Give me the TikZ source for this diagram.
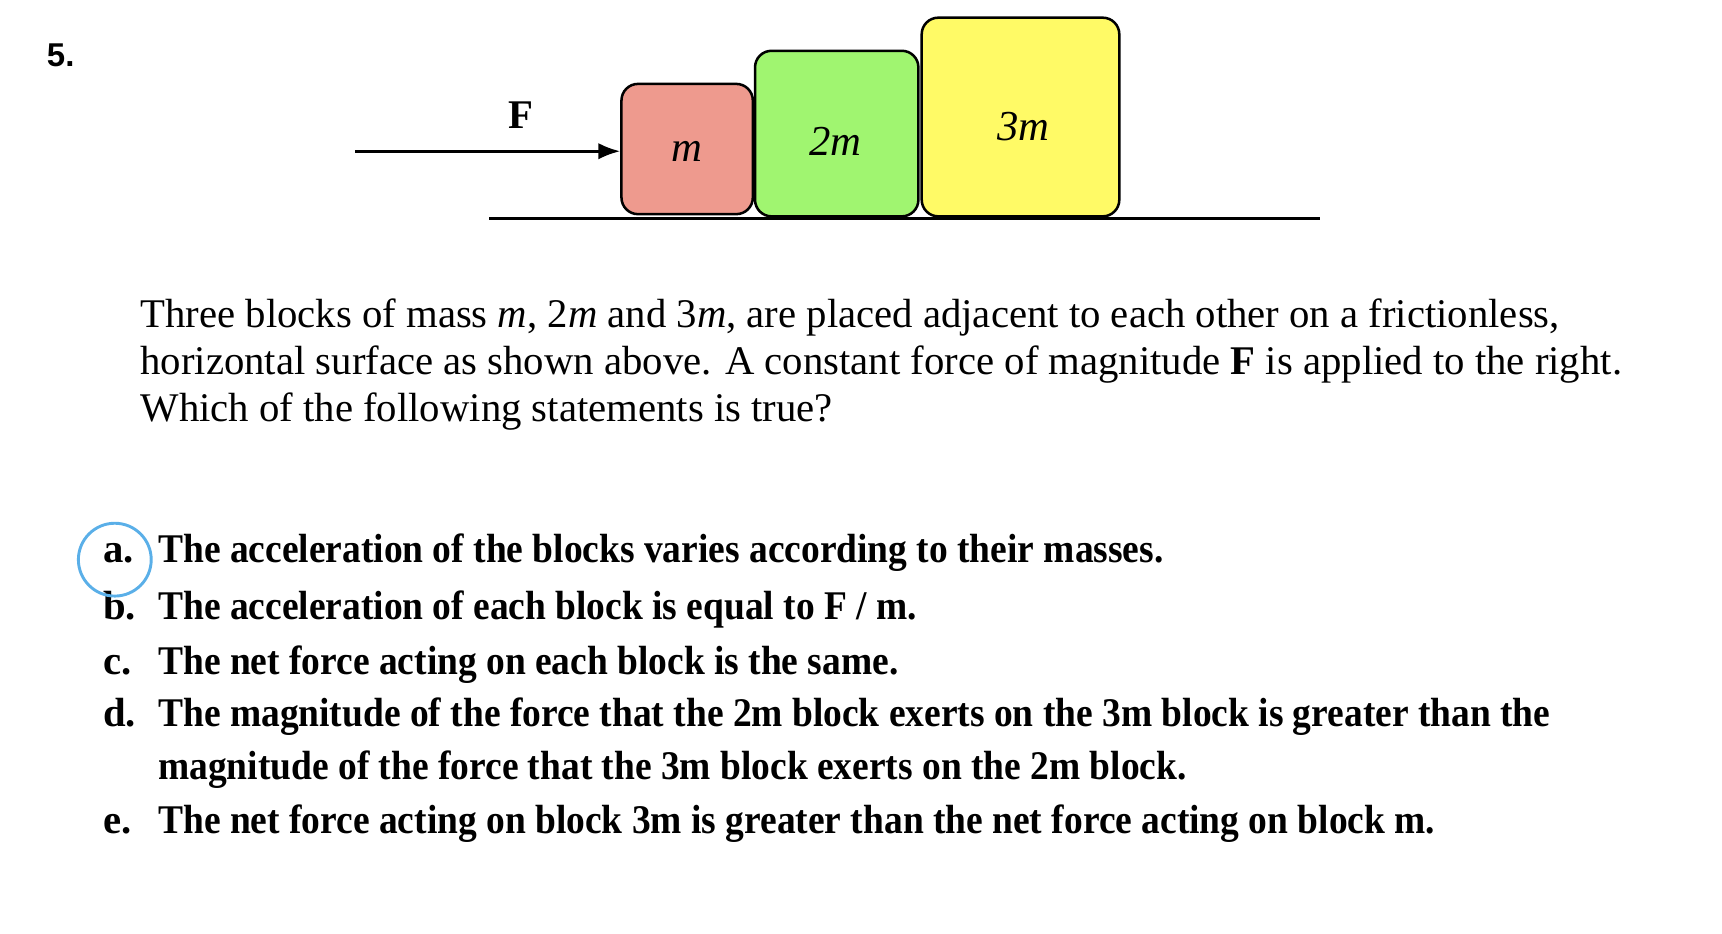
\documentclass[tikz,border=0pt]{standalone}
\usepackage{fontspec}
\setmainfont{Liberation Serif}
\setsansfont{Liberation Sans}
\usepackage{graphicx}
\usetikzlibrary{arrows.meta}
\begin{document}
\begin{tikzpicture}[x=0.02cm,y=-0.02cm,
  blk/.style={draw=black,line width=1.3pt,rounded corners=0.3cm,inner sep=0pt},
  lbl/.style={font=\fontsize{22}{26}\selectfont\itshape},
  para/.style={anchor=base west,inner sep=0pt,font=\fontsize{21}{24}\selectfont},
  opt/.style={anchor=base west,inner sep=0pt,font=\fontsize{21}{25}\selectfont\bfseries}]
\useasboundingbox (0,0) rectangle (1560,846);
\definecolor{salmon}{HTML}{EE9A8E}
\definecolor{lgreen}{HTML}{A0F570}
\definecolor{lyellow}{HTML}{FFFA66}
\definecolor{cblue}{HTML}{5AAFE8}
\node[font=\sffamily\bfseries\fontsize{17}{20}\selectfont] (num) at (55,50) {5.};
\draw[blk,fill=salmon] (563,76) rectangle (682,194);
\node[lbl] (m1) at (622,137) {m};
\draw[blk,fill=lgreen] (684,46) rectangle (832,196);
\node[lbl] (m2) at (757,128) {2m};
\draw[blk,fill=lyellow] (835,16) rectangle (1014,196);
\node[lbl] (m3) at (927,115) {3m};
\coordinate (fs) at (322,137);
\coordinate (fe) at (562,137);
\draw[line width=1.6pt,-{Latex[length=0.4cm,width=0.3cm]}] (fs) -- (fe);
\node[font=\fontsize{21}{22}\selectfont\bfseries] (F) at (472,104) {F};
\coordinate (g1) at (443,198); \coordinate (g2) at (1196,198);
\draw[line width=1.5pt] (g1) -- (g2);
\node[para] (p1) at (127,297) {Three blocks of mass \textit{m}, 2\textit{m} and 3\textit{m}, are placed adjacent to each other on a frictionless,};
\node[para] (p2) at (127,339) {horizontal surface as shown above. A constant force of magnitude \textbf{F} is applied to the right.};
\node[para] (p3) at (127,382) {Which of the following statements is true?};
\newcommand{\optline}[4]{\node[opt] (l#1) at (93,#2) {#3}; \node[opt] (t#1) at (143,#2) {\scalebox{0.92}[1]{#4}};}
\optline{a}{510}{a.}{The acceleration of the blocks varies according to their masses.}
\optline{b}{561}{b.}{The acceleration of each block is equal to F / m.}
\optline{c}{611}{c.}{The net force acting on each block is the same.}
\optline{d}{658}{d.}{The magnitude of the force that the 2m block exerts on the 3m block is greater than the}
\node[opt] (td2) at (143,706) {\scalebox{0.92}[1]{magnitude of the force that the 3m block exerts on the 2m block.}};
\optline{e}{755}{e.}{The net force acting on block 3m is greater than the net force acting on block m.}
\draw[cblue,line width=1.5pt] (104,507) circle[radius=0.66cm];
\end{tikzpicture}
\end{document}
